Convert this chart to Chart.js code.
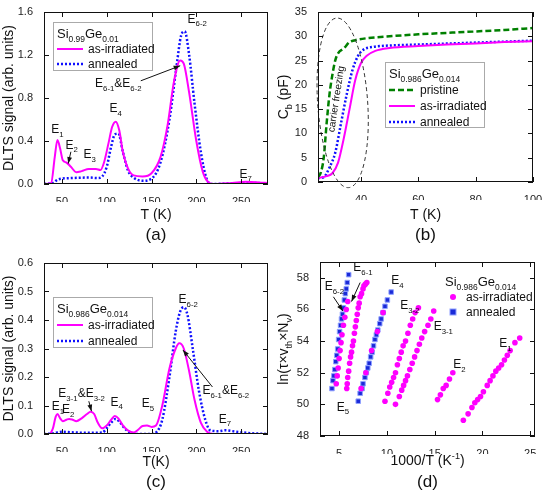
<!DOCTYPE html>
<html><head><meta charset="utf-8">
<script src="https://cdn.jsdelivr.net/npm/chart.js@4"></script>
<style>body{margin:0;background:#fff;width:550px;height:504px;position:relative;overflow:hidden}canvas{position:absolute}</style>
</head><body>
<canvas id="ca" width="280" height="250" style="left:0;top:0"></canvas>
<canvas id="cb" width="275" height="250" style="left:275px;top:0"></canvas>
<canvas id="cc" width="280" height="254" style="left:0;top:250px"></canvas>
<canvas id="cd" width="275" height="254" style="left:275px;top:250px"></canvas>
<script>
// ---- DATA ----
const aIrrT=[30,38,42,45,48,51,55,60,66,72,80,88,93,97,102,106,110,114,118,124,130,140,150,160,168,175,182,186,192,200,207,213,220,240,255,270,280];
const aIrrY=[0,0.01,0.25,0.41,0.33,0.22,0.2,0.16,0.11,0.12,0.14,0.14,0.13,0.2,0.38,0.53,0.58,0.5,0.3,0.14,0.08,0.07,0.1,0.25,0.55,0.95,1.15,1.12,0.85,0.4,0.12,0.02,0,0.01,0.02,0.015,0.01];
const aAnnT=[30,40,45,50,60,80,90,95,100,105,109,113,118,124,130,140,150,160,170,178,183,187,192,198,205,211,216,240,260,280];
const aAnnY=[0,0.01,0.04,0.05,0.055,0.06,0.055,0.07,0.16,0.35,0.46,0.47,0.3,0.12,0.06,0.03,0.05,0.2,0.6,1.1,1.38,1.42,1.2,0.75,0.3,0.06,0,0.005,0.01,0.005];
const aXTicks=[50,100,150,200,250], aYTicks=[0,0.4,0.8,1.2,1.6];

const bPriT=[25,26,27,28,29,30,31,32,34,36,38,42,50,60,70,80,90,100];
const bPriC=[1,2,5,12,18,22,25,26.5,27.5,28.8,29.2,29.6,30,30.4,30.7,31,31.3,31.7];
const bIrrT=[25,28,30,32,34,36,38,40,42,45,50,60,70,80,90,100];
const bIrrC=[0.8,1.2,1.8,4,9,15,21,24.5,26,27,27.6,28,28.3,28.5,28.8,29];
const bAnnT=[25,27,29,31,33,35,37,39,41,44,50,60,80,100];
const bAnnC=[0.8,1,3,6,12,18,23,26,27.3,27.8,28.1,28.3,28.7,29.1];
const bXTicks=[40,60,80,100], bYTicks=[0,5,10,15,20,25,30,35];

const cIrrT=[37,40,43,45,48,51,55,58,62,66,72,78,82,86,90,95,100,105,109,113,118,124,130,135,140,145,150,155,162,170,177,181,186,192,198,205,212,220,280];
const cIrrY=[0,0.02,0.06,0.07,0.055,0.045,0.05,0.053,0.05,0.045,0.055,0.07,0.078,0.07,0.04,0.02,0.03,0.05,0.063,0.055,0.03,0.012,0.005,0.015,0.028,0.03,0.025,0.03,0.1,0.23,0.3,0.318,0.3,0.22,0.12,0.04,0.008,0,0];
const cAnnT=[30,40,50,60,80,95,100,105,110,115,120,126,135,150,155,162,170,177,182,186,190,196,203,210,216,225,232,245,260,280];
const cAnnY=[0,0.002,0.008,0.006,0.004,0.005,0.02,0.04,0.053,0.04,0.02,0.005,0,0,0.005,0.05,0.2,0.36,0.43,0.445,0.42,0.3,0.15,0.05,0.012,0.01,0.013,0.008,0.003,0];
const cXTicks=[50,100,150,200,250], cYTicks=[0,0.1,0.2,0.3,0.4,0.5,0.6];

const dIrrX=[4.7,4.8,4.9,5.0,5.1,5.2,5.3,5.45,5.6,5.75,5.9,
 5.8,5.85,5.9,6.0,6.1,6.2,6.3,6.4,6.5,6.6,6.7,6.8,6.9,7.0,7.1,7.2,7.35,7.5,7.6,7.75,7.9,
 7.3,7.8,8.4,9.0,9.6,
 9.8,10.1,10.3,10.5,10.7,10.9,11.1,11.3,11.5,11.7,11.95,12.2,12.45,12.7,12.95,13.3,
 10.9,11.3,11.55,11.75,11.95,12.15,12.4,12.65,12.9,13.15,13.4,13.65,13.95,14.3,14.6,14.9,
 15.3,15.6,15.9,16.2,16.55,16.9,
 18.0,18.5,18.9,19.2,19.5,19.8,20.1,20.5,20.8,21.1,21.4,21.7,22.0,22.3,22.6,22.9,23.4,23.9];
const dIrrY=[51.3,51.8,52.3,52.9,53.4,53.9,54.4,55.0,55.5,56.0,56.5,
 51.0,51.3,51.7,52.1,52.6,53.0,53.3,53.7,54.0,54.5,54.9,55.3,55.7,56.1,56.4,56.8,57.0,57.3,57.5,57.6,57.7,
 51.0,52.0,53.4,54.6,55.8,
 50.2,50.7,51.1,51.4,51.7,52.0,52.5,52.9,53.3,53.7,54.0,54.5,55.0,55.4,55.8,56.1,
 50.0,50.5,50.9,51.2,51.5,51.8,52.2,52.6,53.0,53.4,53.8,54.2,54.6,55.0,55.4,55.9,
 50.3,50.6,51.0,51.2,51.6,52.0,
 49.0,49.4,49.8,50.1,50.3,50.5,50.8,51.2,51.5,51.8,52.1,52.3,52.5,52.8,53.1,53.4,53.9,54.2];
const dAnnX=[4.25,4.35,4.45,4.55,4.65,4.75,4.85,4.95,5.05,5.15,5.25,5.35,5.45,5.55,5.65,5.75,5.85,6.0,
 7.0,7.2,7.4,7.5,7.7,7.85,8.0,8.15,8.3,8.45,8.6,8.75,8.9,9.05,9.25,9.4,9.6,9.8,10.05,10.45];
const dAnnY=[51.0,51.5,51.8,52.2,52.7,53.1,53.5,54.1,54.6,55.0,55.4,55.7,56.1,56.6,57.0,57.3,57.7,58.2,
 50.2,50.7,51.0,51.3,51.7,52.0,52.3,52.6,53.0,53.3,53.7,54.1,54.4,54.7,55.1,55.4,55.8,56.2,56.6,57.1];
const dXTicks=[5,10,15,20,25], dYTicks=[48,50,52,54,56,58];

// ---- helpers ----
const FONT='"Liberation Sans", Arial, sans-serif';
const MAG='#ff00ff', BLU='#1010ff', GRN='#008000';
function rich(ctx,parts,x,y,size,align){
  ctx.save();ctx.textBaseline='alphabetic';
  let w=0;const sub=size*0.65;
  parts.forEach(p=>{ctx.font=(p[1]?sub:size)+'px '+FONT;w+=ctx.measureText(p[0]).width;});
  let cx=align==='left'?x:(align==='right'?x-w:x-w/2);
  parts.forEach(p=>{ctx.font=(p[1]?sub:size)+'px '+FONT;
    const dy=p[1]===1?size*0.3:(p[1]===2?-size*0.45:0);
    ctx.fillStyle='#111';ctx.textAlign='left';ctx.fillText(p[0],cx,y+dy);cx+=ctx.measureText(p[0]).width;});
  ctx.restore();
}
function arrow(ctx,x1,y1,x2,y2){
  ctx.save();ctx.strokeStyle='#111';ctx.fillStyle='#111';ctx.lineWidth=1;
  ctx.beginPath();ctx.moveTo(x1,y1);ctx.lineTo(x2,y2);ctx.stroke();
  const a=Math.atan2(y2-y1,x2-x1),L=7;
  ctx.beginPath();ctx.moveTo(x2,y2);ctx.lineTo(x2-L*Math.cos(a-0.35),y2-L*Math.sin(a-0.35));
  ctx.lineTo(x2-L*Math.cos(a+0.35),y2-L*Math.sin(a+0.35));ctx.closePath();ctx.fill();ctx.restore();
}
const deco={id:'deco',afterDraw(chart,args,o){
  const ctx=chart.ctx,ca=chart.chartArea,xs=chart.scales.x,ys=chart.scales.y;
  ctx.save();
  if(o.ellipse){const e=o.ellipse;ctx.strokeStyle='#333';ctx.lineWidth=1;ctx.setLineDash([4,3]);
    ctx.beginPath();ctx.ellipse(xs.getPixelForValue(e.x),ys.getPixelForValue(e.y),e.rx,e.ry,e.rot,0,Math.PI*2);ctx.stroke();ctx.setLineDash([]);
    ctx.save();ctx.translate(xs.getPixelForValue(e.tx),ys.getPixelForValue(e.ty));ctx.rotate(-1.42);
    ctx.font='10px '+FONT;ctx.fillStyle='#111';ctx.textAlign='center';ctx.fillText('carrier freezing',0,0);ctx.restore();}
  ctx.strokeStyle='#111';ctx.lineWidth=1;ctx.strokeRect(ca.left+0.5,ca.top+0.5,ca.right-ca.left-1,ca.bottom-ca.top-1);
  ctx.beginPath();
  xs.ticks.forEach(t=>{const p=Math.round(xs.getPixelForValue(t.value))+0.5;ctx.moveTo(p,ca.bottom);ctx.lineTo(p,ca.bottom-5);ctx.moveTo(p,ca.top);ctx.lineTo(p,ca.top+5);});
  ys.ticks.forEach(t=>{const p=Math.round(ys.getPixelForValue(t.value))+0.5;ctx.moveTo(ca.left,p);ctx.lineTo(ca.left+5,p);ctx.moveTo(ca.right,p);ctx.lineTo(ca.right-5,p);});
  ctx.stroke();
  (o.labels||[]).forEach(l=>rich(ctx,l.p,xs.getPixelForValue(l.x),ys.getPixelForValue(l.y),l.s||12,'center'));
  (o.arrows||[]).forEach(a=>arrow(ctx,xs.getPixelForValue(a[0]),ys.getPixelForValue(a[1]),xs.getPixelForValue(a[2]),ys.getPixelForValue(a[3])));
  if(o.legend){const L=o.legend;
    if(L.box){ctx.strokeStyle='#aaa';ctx.lineWidth=1;ctx.strokeRect(L.x+0.5,L.y+0.5,L.w,L.h);}
    rich(ctx,L.title,L.x+4,L.y+16,L.fs+1,'left');
    L.items.forEach((it,i)=>{const yy=L.y+16+L.dy*(i+1);
      ctx.save();
      if(it.pt){ctx.fillStyle=it.c;ctx.beginPath();
        if(it.pt==='c'){ctx.arc(L.x+L.sw/2+4,yy-4,3,0,Math.PI*2);ctx.fill();}
        else{ctx.fillRect(L.x+L.sw/2+1,yy-7,6,6);ctx.strokeStyle='#8fa0ff';ctx.strokeRect(L.x+L.sw/2+1,yy-7,6,6);}}
      else{ctx.strokeStyle=it.c;ctx.lineWidth=it.w;ctx.setLineDash(it.d);ctx.beginPath();ctx.moveTo(L.x+4,yy-4);ctx.lineTo(L.x+4+L.sw,yy-4);ctx.stroke();}
      ctx.restore();
      rich(ctx,[[it.t,0]],L.x+L.sw+9,yy,L.fs,'left');});
  }
  rich(ctx,o.xt,(ca.left+ca.right)/2,o.xty,14,'center');
  ctx.save();ctx.translate(o.ytx,(ca.top+ca.bottom)/2);ctx.rotate(-Math.PI/2);rich(ctx,o.yt,0,0,o.yts||14,'center');ctx.restore();
  rich(ctx,[[o.panel,0]],(ca.left+ca.right)/2,o.py,17,'center');
  ctx.restore();
}};
function xy(xa,ya){return xa.map((v,i)=>({x:v,y:ya[i]}));}
function make(id,box,ds,xr,yr,deco_opts,xt,yt,yfmt){
  const c=document.getElementById(id);
  return new Chart(c,{type:'scatter',data:{datasets:ds},plugins:[deco],
    options:{responsive:false,animation:false,devicePixelRatio:1,
      layout:{padding:{left:0,top:box.t,right:c.width-box.r,bottom:c.height-box.b-18}},
      plugins:{legend:{display:false},tooltip:{enabled:false},deco:deco_opts},
      scales:{
        x:{type:'linear',min:xr[0],max:xr[1],grid:{display:false},border:{display:false},
          afterFit:s=>{s.height=18;},afterBuildTicks:s=>{s.ticks=xt.map(v=>({value:v}));},
          ticks:{font:{family:FONT,size:11},color:'#222',padding:3,maxRotation:0}},
        y:{type:'linear',min:yr[0],max:yr[1],grid:{display:false},border:{display:false},
          afterFit:s=>{s.width=box.l;},afterBuildTicks:s=>{s.ticks=yt.map(v=>({value:v}));},
          ticks:{font:{family:FONT,size:11},color:'#222',padding:3,callback:yfmt}}}}});
}
const line=(d,c,w,dash)=>({data:d,showLine:true,borderColor:c,borderWidth:w,borderDash:dash,pointRadius:0,tension:0.4,cubicInterpolationMode:'monotone'});
const f1=v=>v.toFixed(1);
// (a)
make('ca',{l:44,t:12,r:268,b:184},[line(xy(aIrrT,aIrrY),MAG,2,[]),line(xy(aAnnT,aAnnY),BLU,2.5,[2,2])],[30,280],[0,1.6],{
  labels:[{x:45,y:0.47,p:[['E',0],['1',1]]},{x:61,y:0.33,p:[['E',0],['2',1]]},{x:81,y:0.24,p:[['E',0],['3',1]]},
    {x:110,y:0.67,p:[['E',0],['4',1]]},{x:201,y:1.5,p:[['E',0],['6-2',1]]},{x:113,y:0.9,p:[['E',0],['6-1',1],['&E',0],['6-2',1]]},
    {x:255,y:0.06,p:[['E',0],['7',1]]}],
  arrows:[[60,0.3,57,0.19],[138,0.96,182,1.1]],
  legend:{x:53,y:22,w:99,h:48,fs:12,dy:15,sw:26,box:true,title:[['Si',0],['0.99',1],['Ge',0],['0.01',1]],
    items:[{t:'as-irradiated',c:MAG,w:2,d:[]},{t:'annealed',c:BLU,w:2.5,d:[2,2]}]},
  xt:[['T (K)',0]],xty:219,yt:[['DLTS signal (arb. units)',0]],ytx:13,panel:'(a)',py:240},aXTicks,aYTicks,f1);
// (b)
make('cb',{l:43,t:12,r:258,b:182},[line(xy(bPriT,bPriC),GRN,2.5,[6,3]),line(xy(bIrrT,bIrrC),MAG,2,[]),line(xy(bAnnT,bAnnC),BLU,2.5,[2,2])],
  [25,100],[0,35],{
  ellipse:{x:33.6,y:16.3,rx:25,ry:85,rot:-0.07,tx:32.4,ty:17},
  legend:{x:110,y:62,w:99,h:65,fs:12,dy:16,sw:26,box:true,title:[['Si',0],['0.986',1],['Ge',0],['0.014',1]],
    items:[{t:'pristine',c:GRN,w:2.5,d:[6,3]},{t:'as-irradiated',c:MAG,w:2,d:[]},{t:'annealed',c:BLU,w:2.5,d:[2,2]}]},
  xt:[['T (K)',0]],xty:219,yt:[['C',0],['b',1],[' (pF)',0]],ytx:13,panel:'(b)',py:240},bXTicks,bYTicks,v=>v);
// (c)
make('cc',{l:44,t:13,r:268,b:184},[line(xy(cIrrT,cIrrY),MAG,2,[]),line(xy(cAnnT,cAnnY),BLU,2.5,[2,2])],[30,280],[0,0.6],{
  labels:[{x:45.5,y:0.084,p:[['E',0],['1',1]]},{x:57,y:0.073,p:[['E',0],['2',1]]},{x:72,y:0.13,p:[['E',0],['3-1',1],['&E',0],['3-2',1]]},
    {x:111,y:0.1,p:[['E',0],['4',1]]},{x:146,y:0.094,p:[['E',0],['5',1]]},{x:191,y:0.46,p:[['E',0],['6-2',1]]},
    {x:233,y:0.14,p:[['E',0],['6-1',1],['&E',0],['6-2',1]]},{x:232,y:0.04,p:[['E',0],['7',1]]}],
  arrows:[[80,0.115,83,0.08],[218,0.165,185,0.295]],
  legend:{x:53,y:47,w:99,h:50,fs:12,dy:16,sw:26,box:true,title:[['Si',0],['0.986',1],['Ge',0],['0.014',1]],
    items:[{t:'as-irradiated',c:MAG,w:2,d:[]},{t:'annealed',c:BLU,w:2.5,d:[2,2]}]},
  xt:[['T(K)',0]],xty:216,yt:[['DLTS signal (arb. units)',0]],ytx:13,panel:'(c)',py:237},cXTicks,cYTicks,f1);
// (d)
make('cd',{l:45,t:12,r:260,b:186},[
  {data:xy(dIrrX,dIrrY),pointStyle:'circle',pointRadius:2.8,backgroundColor:MAG,borderWidth:0},
  {data:xy(dAnnX,dAnnY),pointStyle:'rect',pointRadius:3.2,backgroundColor:'#1a2ad8',borderColor:'#8fa0ff',borderWidth:1}],
  [3,25.5],[48,59],{
  labels:[{x:7.5,y:58.4,p:[['E',0],['6-1',1]]},{x:4.5,y:57.2,p:[['E',0],['6-2',1]]},{x:11.1,y:57.6,p:[['E',0],['4',1]]},
    {x:12.4,y:56.0,p:[['E',0],['3-2',1]]},{x:15.9,y:54.7,p:[['E',0],['3-1',1]]},{x:17.6,y:52.3,p:[['E',0],['2',1]]},
    {x:22.4,y:53.6,p:[['E',0],['1',1]]},{x:5.4,y:49.6,p:[['E',0],['5',1]]}],
  arrows:[[7.2,57.7,6.3,56.5],[4.4,56.8,5.4,55.9]],
  legend:{x:166,y:20,w:88,h:42,fs:12,dy:15,sw:16,box:false,title:[['Si',0],['0.986',1],['Ge',0],['0.014',1]],
    items:[{t:'as-irradiated',c:MAG,pt:'c'},{t:'annealed',c:'#1a2ad8',pt:'r'}]},
  xt:[['1000/T (K',0],['-1',2],[')',0]],xty:215,yt:[['ln(τ×v',0],['th',1],['×N',0],['v',1],[')',0]],ytx:13,panel:'(d)',py:237},dXTicks,dYTicks,v=>v);
</script></body></html>
